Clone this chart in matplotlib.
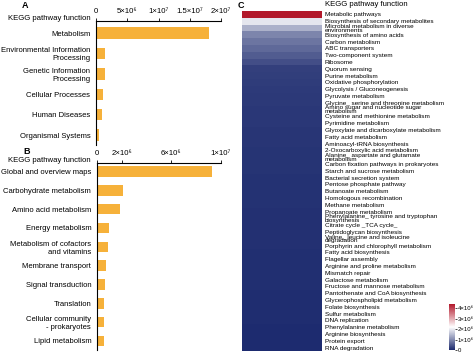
import numpy as np
import matplotlib
matplotlib.use('Agg')
import matplotlib.pyplot as plt
from matplotlib.colors import LinearSegmentedColormap, Normalize
from matplotlib.ticker import FixedLocator, FixedFormatter

plt.rcParams['font.family'] = ['Liberation Sans', 'DejaVu Sans']

# panel A: level 1 KEGG categories
a_labels = ['Metabolism', 'Environmental Information\nProcessing',
            'Genetic Information\nProcessing', 'Cellular Processes',
            'Human Diseases', 'Organismal Systems']
a_values = [1.81e7, 1.50e6, 1.45e6, 1.12e6, 0.96e6, 0.48e6]
a_ticks = [0, 5e6, 1e7, 1.5e7, 2e7]
a_ticklabels = ['0', '5×10⁶', '1×10⁷', '1.5×10⁷', '2×10⁷']

# panel B: level 2 KEGG categories
b_labels = ['Global and overview maps', 'Carbohydrate metabolism',
            'Amino acid metabolism', 'Energy metabolism',
            'Metabolism of cofactors\nand vitamins', 'Membrane transport',
            'Signal transduction', 'Translation',
            'Cellular community\n- prokaryotes', 'Lipid metabolism']
b_values = [9.3e6, 2.15e6, 1.85e6, 0.97e6, 0.91e6, 0.78e6, 0.70e6, 0.59e6, 0.56e6, 0.56e6]
b_ticks = [0, 2e6, 6e6, 1e7]
b_ticklabels = ['0', '2×10⁶', '6×10⁶', '1×10⁷']

# panel C: level 3 pathways
c_labels = ['Metabolic pathways', 'Biosynthesis of secondary metabolites',
            'Microbial metabolism in diverse\nenvironments', 'Biosynthesis of amino acids',
            'Carbon metabolism', 'ABC transporters', 'Two-component system', 'Ribosome',
            'Quorum sensing', 'Purine metabolism', 'Oxidative phosphorylation',
            'Glycolysis / Gluconeogenesis', 'Pyruvate metabolism',
            'Glycine_ serine and threonine metabolism',
            'Amino sugar and nucleotide sugar\nmetabolism',
            'Cysteine and methionine metabolism', 'Pyrimidine metabolism',
            'Glyoxylate and dicarboxylate metabolism', 'Fatty acid metabolism',
            'Aminoacyl-tRNA biosynthesis', '2-Oxocarboxylic acid metabolism',
            'Alanine_ aspartate and glutamate\nmetabolism',
            'Carbon fixation pathways in prokaryotes', 'Starch and sucrose metabolism',
            'Bacterial secretion system', 'Pentose phosphate pathway',
            'Butanoate metabolism', 'Homologous recombination', 'Methane metabolism',
            'Propanoate metabolism',
            'Phenylalanine_ tyrosine and tryptophan\nbiosynthesis',
            'Citrate cycle _TCA cycle_', 'Peptidoglycan biosynthesis',
            'Valine_ leucine and isoleucine\ndegradation',
            'Porphyrin and chlorophyll metabolism', 'Fatty acid biosynthesis',
            'Flagellar assembly', 'Arginine and proline metabolism', 'Mismatch repair',
            'Galactose metabolism', 'Fructose and mannose metabolism',
            'Pantothenate and CoA biosynthesis', 'Glycerophospholipid metabolism',
            'Folate biosynthesis', 'Sulfur metabolism', 'DNA replication',
            'Phenylalanine metabolism', 'Arginine biosynthesis', 'Protein export',
            'RNA degradation']
c_values = [4.4e6, 1.95e6, 1.4e6, 0.95e6, 0.78e6, 0.66e6, 0.52e6, 0.38e6,
            0.24e6, 0.21e6, 0.19e6, 0.18e6, 0.17e6, 0.16e6, 0.15e6, 0.145e6,
            0.14e6, 0.135e6, 0.13e6, 0.125e6, 0.12e6, 0.115e6, 0.11e6, 0.105e6,
            0.10e6, 0.097e6, 0.094e6, 0.091e6, 0.088e6, 0.085e6, 0.082e6, 0.079e6,
            0.076e6, 0.073e6, 0.07e6, 0.067e6, 0.064e6, 0.061e6, 0.058e6, 0.055e6,
            0.052e6, 0.049e6, 0.046e6, 0.043e6, 0.04e6, 0.037e6, 0.034e6, 0.031e6,
            0.028e6, 0.025e6]
cb_ticks = [0, 1e6, 2e6, 3e6, 4e6]
cb_ticklabels = ['0', '1×10⁶', '2×10⁶', '3×10⁶', '4×10⁶']

bar_color = '#F6B13A'
W, H = 474, 354
fig = plt.figure(figsize=(W / 100, H / 100), dpi=100)


def px_axes(x0, y0, x1, y1):
    return fig.add_axes([x0 / W, 1 - y1 / H, (x1 - x0) / W, (y1 - y0) / H])


def bar_panel(ax, labels, values, ticks, ticklabels, xmax, ylim):
    y = np.arange(len(labels))
    ax.barh(y, values, height=0.56, color=bar_color)
    ax.set_xlim(0, xmax)
    ax.set_ylim(*ylim)
    ax.set_yticks(y)
    ax.set_yticklabels(labels, fontsize=5.5, linespacing=1.2)
    ax.tick_params(axis='y', length=0, pad=4)
    ax.xaxis.tick_top()
    ax.xaxis.set_major_locator(FixedLocator(ticks))
    ax.xaxis.set_major_formatter(FixedFormatter(ticklabels))
    ax.tick_params(axis='x', labelsize=5.6, length=2.5, width=0.6, pad=1.5)
    for s in ['right', 'bottom']:
        ax.spines[s].set_visible(False)
    for s in ['left', 'top']:
        ax.spines[s].set_linewidth(0.8)


axA = px_axes(96, 21, 221, 145)
bar_panel(axA, a_labels, a_values, a_ticks, a_ticklabels, 2e7, (5.49, -0.59))
axB = px_axes(96.7, 163, 220.7, 350)
bar_panel(axB, b_labels, b_values, b_ticks, b_ticklabels, 1e7, (9.48, -0.45))

fig.text(91 / W, 1 - 18 / H, 'KEGG pathway function', ha='right', va='center', fontsize=5.6)
fig.text(91 / W, 1 - 160 / H, 'KEGG pathway function', ha='right', va='center', fontsize=5.6)
fig.text(25 / W, 1 - 6 / H, 'A', ha='center', va='center', fontsize=6.5, fontweight='bold')
fig.text(27 / W, 1 - 152 / H, 'B', ha='center', va='center', fontsize=6.5, fontweight='bold')
fig.text(241 / W, 1 - 6 / H, 'C', ha='center', va='center', fontsize=6.5, fontweight='bold')

# heatmap
cmap = LinearSegmentedColormap.from_list('bwr_kegg', ['#1c2a6e', '#ffffff', '#b2182b'])
norm = Normalize(vmin=0, vmax=max(c_values))
axC = px_axes(242, 11, 322, 351)
axC.imshow(np.array(c_values)[:, None], aspect='auto', cmap=cmap, norm=norm,
           interpolation='nearest')
axC.set_xticks([])
axC.yaxis.tick_right()
axC.set_yticks(np.arange(len(c_labels)))
axC.set_yticklabels(c_labels, fontsize=4.6, linespacing=0.75)
axC.tick_params(axis='y', length=0, pad=2)
for s in axC.spines.values():
    s.set_visible(False)
fig.text(325 / W, 1 - 4.5 / H, 'KEGG pathway function', ha='left', va='center', fontsize=5.6)

cax = px_axes(449, 304, 455, 350)
sm = plt.cm.ScalarMappable(norm=norm, cmap=cmap)
cb = fig.colorbar(sm, cax=cax)
cb.set_ticks(cb_ticks)
cb.set_ticklabels(cb_ticklabels)
cb.ax.tick_params(labelsize=4.3, length=1.2, width=0.5, pad=0.8)
cb.outline.set_visible(False)

fig.savefig('out.png', dpi=100)
